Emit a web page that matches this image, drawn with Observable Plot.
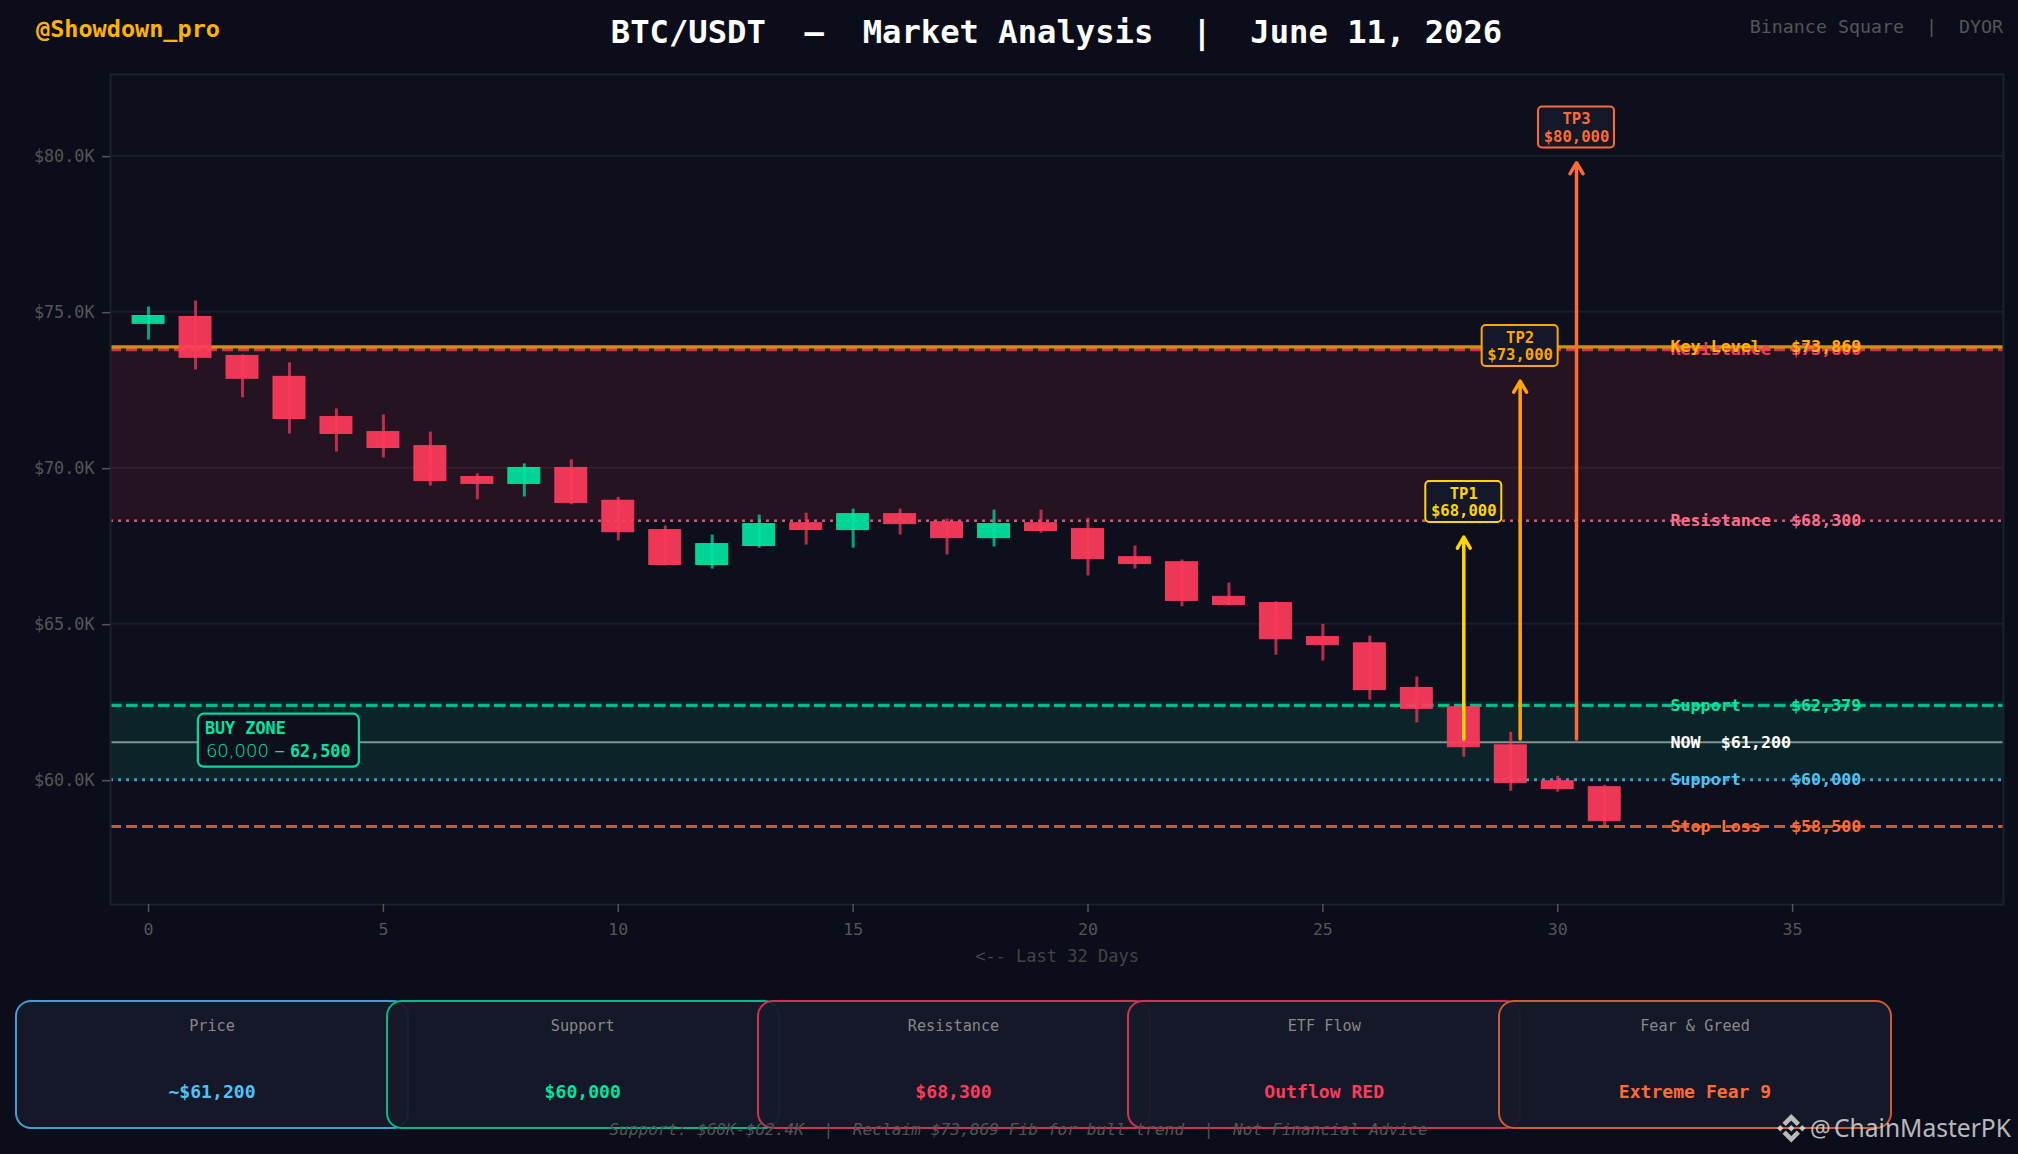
<!DOCTYPE html>
<html>
<head>
<meta charset="utf-8">
<script src="https://cdn.jsdelivr.net/npm/d3@7"></script>
<script src="https://cdn.jsdelivr.net/npm/@observablehq/plot@0.6"></script>
<style>
  html, body { margin: 0; padding: 0; background: #0b0d1a; }
  body { width: 2018px; height: 1154px; overflow: hidden; position: relative; font-family: "DejaVu Sans Mono", monospace; }
  .h { position: absolute; white-space: pre; line-height: 1; }
  #chart { position: absolute; left: 0; top: 69px; }
  #chart text { white-space: pre; }
  .card { position: absolute; top: 1000px; width: 390px; height: 125px; border: 2px solid; border-radius: 16px; background: rgba(21,25,41,0.94); }
  .card .l { position: absolute; left: 0; right: 0; top: 15px; text-align: center; color: #888; font-size: 15.2px; line-height: 18px; }
  .card .v { position: absolute; left: 0; right: 0; top: 79px; text-align: center; font-size: 18.1px; line-height: 22px; font-weight: bold; }
  #foot { position: absolute; left: 0; width: 2037px; top: 1121px; text-align: center; color: #555; font-size: 16.2px; font-style: italic; white-space: pre; line-height: 18px; }
  .mark { position: absolute; top: 1110px; font-family: "Noto Sans"; line-height: 36px; color: rgba(225,225,225,0.82); white-space: pre; }
  #logo { position: absolute; left: 1777px; top: 1114px; width: 28.5px; height: 28.5px; }
</style>
</head>
<body>
<div class="h" style="left:0;width:2113px;top:16px;text-align:center;color:#fff;font-size:32.2px;font-weight:bold">BTC/USDT  —  Market Analysis  |  June 11, 2026</div>
<div class="h" style="left:36px;top:18px;color:#FFB300;font-size:23.5px;font-weight:bold">@Showdown_pro</div>
<div class="h" style="right:15px;top:18px;color:#555;font-size:18.3px">Binance Square  |  DYOR</div>
<div id="chart"></div>
<div id="cards"></div>
<div id="foot">Support: $60K-$62.4K  |  Reclaim $73,869 Fib for bull trend  |  Not Financial Advice</div>
<svg id="logo" viewBox="0 0 126.61 126.61"><path fill="rgba(225,225,225,0.82)" d="M38.73 53.2l24.59-24.58 24.6 24.6 14.3-14.31L63.32 0 24.43 38.9zM0 63.31l14.3-14.3 14.31 14.3-14.31 14.3zM38.73 73.41l24.59 24.59 24.6-24.6 14.31 14.29-38.9 38.91-38.91-38.88-.01-.01zM97.99 63.31l14.3-14.3 14.32 14.3-14.31 14.3zM77.83 63.3L63.32 48.78 52.59 59.51l-1.24 1.23-2.54 2.54 14.51 14.5 14.51-14.47z"/></svg>
<div class="mark" style="left:1810px;font-size:23px">@</div>
<div class="mark" style="left:1834px;font-size:24.6px">ChainMasterPK</div>
<script>
// Candles
const opens  = [74610,74830,73580,72910,71620,71140,70690,69700,69480,69990,68940,68000,66880,67490,68220,68000,68510,68250,67740,68220,68030,67130,66970,65860,65660,64570,64370,62940,62320,61100,59950,59760];
const closes = [74860,73520,72850,71560,71080,70630,69570,69480,69990,68870,67930,66880,67550,68190,68000,68510,68190,67740,68190,67970,67070,66910,65730,65600,64500,64310,62870,62270,61040,59890,59700,58670];
const highs  = [75150,75340,73610,73360,71880,71690,71140,69800,70120,70250,69050,68130,67840,68480,68540,68670,68670,68350,68640,68640,68380,67490,67040,66300,65700,64980,64600,63290,62360,61520,60110,59820];
const lows   = [74090,73130,72240,71080,70500,70310,69410,68970,69060,68810,67650,66850,66750,67420,67520,67420,67840,67200,67460,67900,66530,66750,65540,65570,63990,63800,62550,61820,60720,59630,59600,58510];

// Levels
const levelNames  = ["Resistance","Key Level","Resistance","Support","NOW","Support","Stop Loss"];
const levelValues = [73780,73869,68300,62379,61200,60000,58500];
const levelTexts  = ["Resistance  $73,800","Key Level   $73,869","Resistance  $68,300","Support     $62,379","NOW  $61,200","Support     $60,000","Stop Loss   $58,500"];
const levelColors = ["#FF3B5C","#FFB300","#FF6B8A","#00E5A0","#FFFFFF","#4FC3F7","#FF6B35"];
const levelLabelX = 32.4;

// Zones
const zoneLow  = [68300,60000];
const zoneHigh = [73800,62500];
const zoneFill = ["#FF3B5C","#00E5A0"];

// Targets
const tpNames  = ["TP1","TP2","TP3"];
const tpValues = [68000,73000,80000];
const tpX      = [28,29.2,30.4];
const tpColors = ["#FFD600","#FFA500","#FF6B35"];
const tpFrom   = 61300;
const tpLabelLift = 900;

// Axes
const xTicks = [0,5,10,15,20,25,30,35];
const yTicks = [60000,65000,70000,75000,80000];
const xDomain = [-0.81,39.49];
const yDomain = [56000,82600];

// Cards
const cardLabels = ["Price","Support","Resistance","ETF Flow","Fear & Greed"];
const cardValues = ["~$61,200","$60,000","$68,300","Outflow RED","Extreme Fear 9"];
const cardValueColors = ["#4FC3F7","#00E5A0","#FF3B5C","#FF3B5C","#FF6B35"];
const cardBorders = ["#4FC3F7","#00E5A0","#FF3B5C","#FF3B5C","#FF6B35"];

const candles = opens.map((o,i) => ({i, open:o, close:closes[i], high:highs[i], low:lows[i], up: closes[i] >= o}));
const levels = levelNames.map((n,i) => ({name:n, value:levelValues[i], text:levelTexts[i], color:levelColors[i]}));
const zones = zoneLow.map((l,i) => ({low:l, high:zoneHigh[i], fill:zoneFill[i]}));
const tps = tpNames.map((n,i) => ({name:n, value:tpValues[i], x:tpX[i], color:tpColors[i], ly:tpValues[i]+tpLabelLift, text:n+"\n$"+d3.format(",")(tpValues[i])}));
const buy = [{x:1.2, y:61250}];
const GREEN = "#00E5A0", RED = "#FF3B5C";
const lineStyles = {
  "Resistance0": {w:3.2, dash:"11,5", op:.8},
  "Key Level": {w:3.2, dash:null, op:.8},
  "Resistance2": {w:2.6, dash:"3,5", op:.8},
  "Support3": {w:3.2, dash:"11.5,4.5", op:.8},
  "NOW": {w:2.2, dash:null, op:.5},
  "Support5": {w:3, dash:"3,5", op:.75},
  "Stop Loss": {w:3.2, dash:"11,5", op:.8}
};
const lineKeys = ["Resistance0","Key Level","Resistance2","Support3","NOW","Support5","Stop Loss"];

const plot = Plot.plot({
  width: 2018, height: 915,
  marginLeft: 110, marginRight: 15, marginTop: 5, marginBottom: 80,
  style: {background: "transparent", fontFamily: "'DejaVu Sans Mono', monospace"},
  x: {domain: xDomain},
  y: {domain: yDomain},
  marks: [
    Plot.frame({fill: "#0d0f1c", stroke: "none"}),
    Plot.gridY(yTicks, {stroke: "#1a1d2c", strokeOpacity: 1, strokeWidth: 2}),
    Plot.rect(zones, {y1: "low", y2: "high", fill: "fill", fillOpacity: 0.1}),
    ...levels.map((l,k) => {
      const s = lineStyles[lineKeys[k]];
      return Plot.ruleY([l.value], {stroke: l.color, strokeWidth: s.w, strokeDasharray: s.dash, strokeOpacity: s.op});
    }),
    Plot.frame({stroke: "#1c2031", strokeWidth: 2}),
    Plot.ruleX(candles, {x: "i", y1: "low", y2: "high", stroke: d => d.up ? GREEN : RED, strokeWidth: 3, strokeOpacity: 0.7}),
    Plot.rect(candles, {
      x1: d => d.i - 0.34, x2: d => d.i + 0.34,
      y1: d => Math.min(d.open, d.close), y2: d => Math.max(d.open, d.close),
      fill: d => d.up ? GREEN : RED, fillOpacity: 0.92,
      stroke: d => d.up ? GREEN : RED, strokeOpacity: 0.92, strokeWidth: 1
    }),
    Plot.arrow(tps, {x1: "x", x2: "x", y1: () => tpFrom, y2: "value", stroke: "color", strokeWidth: 3.5, headLength: 5.5, headAngle: 60, insetEnd: 7}),
    Plot.rect(tps, {x1: "x", x2: "x", y1: "ly", y2: "ly", insetLeft: -38, insetRight: -38, insetTop: -20.5, insetBottom: -20.5, rx: 4, fill: "#141828", stroke: "color", strokeWidth: 2}),
    Plot.text(tps, {x: "x", y: "ly", text: "text", fill: "color", fontSize: 15.6, fontWeight: "bold", lineHeight: 1.1, lineAnchor: "middle"}),
    Plot.rect(buy, {x1: "x", x2: "x", y1: "y", y2: "y", insetLeft: -6.5, insetRight: -154.5, insetTop: -26.5, insetBottom: -26.5, rx: 6, fill: "#0d0f1c", stroke: GREEN, strokeOpacity: .95, strokeWidth: 2.2}),
    Plot.text(buy, {x: "x", y: "y", text: () => "BUY ZONE", dy: -12, textAnchor: "start", lineAnchor: "middle", fill: GREEN, fontSize: 16.8, fontWeight: "bold"}),
    Plot.text(buy, {x: "x", y: "y", text: () => "60,000", dx: 1, dy: 11, textAnchor: "start", lineAnchor: "middle", fill: GREEN, fontSize: 18, fontFamily: "DejaVu Sans", fontWeight: 200}),
    Plot.text(buy, {x: "x", y: "y", text: () => "−", dx: 69, dy: 11, textAnchor: "start", lineAnchor: "middle", fill: GREEN, fontSize: 14, fontFamily: "DejaVu Sans"}),
    Plot.text(buy, {x: "x", y: "y", text: () => "62,500", dx: 85, dy: 11, textAnchor: "start", lineAnchor: "middle", fill: GREEN, fontSize: 16.8, fontWeight: "bold"}),
    Plot.text(levels, {x: () => levelLabelX, y: "value", text: "text", fill: "color", textAnchor: "start", lineAnchor: "middle", fontSize: 16.7, fontWeight: "bold"}),
    Plot.axisX(xTicks, {anchor: "bottom", label: null, color: "#555", tickSize: 8, tickPadding: 11, fontSize: 16.6, strokeWidth: 1.5, tickFormat: d => d}),
    Plot.axisY(yTicks, {anchor: "left", label: null, color: "#555", tickSize: 8, tickPadding: 8, fontSize: 16.8, strokeWidth: 1.5, dy: 1, tickFormat: d => "$" + (d/1000).toFixed(1) + "K"}),
    Plot.text(["<-- Last 32 Days"], {frameAnchor: "bottom", dy: 52, lineAnchor: "middle", fill: "#444", fontSize: 17})
  ]
});
document.getElementById("chart").appendChild(plot);

const cardStep = 370.75, cardLeft = 15;
const cardsEl = document.getElementById("cards");
cardLabels.forEach((label,i) => {
  const c = document.createElement("div");
  c.className = "card";
  c.style.left = (cardLeft + i*cardStep) + "px";
  c.style.borderColor = cardBorders[i] + "cc";
  const l = document.createElement("div"); l.className = "l"; l.textContent = label;
  const v = document.createElement("div"); v.className = "v"; v.textContent = cardValues[i]; v.style.color = cardValueColors[i];
  c.append(l, v); cardsEl.appendChild(c);
});
</script>
</body>
</html>
